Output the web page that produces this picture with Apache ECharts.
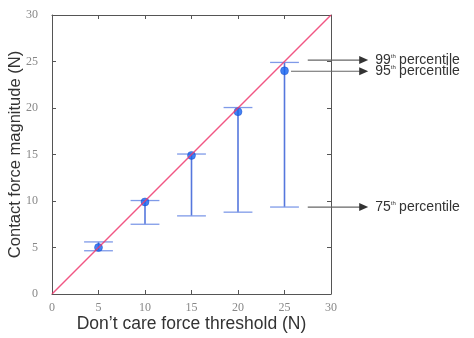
<!DOCTYPE html>
<html>
<head>
<meta charset="utf-8">
<script src="https://cdn.jsdelivr.net/npm/echarts@6/dist/echarts.min.js"></script>
<style>
html, body { margin: 0; padding: 0; background: #fff; }
#chart { width: 474px; height: 338px; }
</style>
</head>
<body>
<div id="chart"></div>
<script>
// thresholds and measured force
var thresholds = [5, 10, 15, 20, 25];
var p95 = [5.0, 9.9, 14.9, 19.6, 24.0];
var p99 = [5.6, 10.05, 15.05, 20.05, 24.9];
var p75 = [4.65, 7.5, 8.4, 8.8, 9.35];
var diagonal = [[0, 0], [30, 30]];

// annotation arrows: [startX, y, endX, label number]
var arrowStart = [27.5, 25.7, 27.5];
var arrowY = [25.15, 23.95, 9.35];
var arrowEnd = 34.0;
var arrowNum = ['99', '95', '75'];

var chart = echarts.init(document.getElementById('chart'));

var tickFont = { fontFamily: 'Liberation Serif', fontSize: 12, color: '#888' };

var errData = thresholds.map(function (t, i) { return [t, p75[i], p99[i]]; });
var pointData = thresholds.map(function (t, i) { return [t, p95[i]]; });
var arrowData = arrowY.map(function (y, i) { return [arrowStart[i], y, arrowEnd, arrowNum[i]]; });

var option = {
  animation: false,
  grid: { left: 52, right: 143, top: 15, bottom: 44, outerBoundsMode: 'none' },
  xAxis: [{
    type: 'value', min: 0, max: 30, interval: 5,
    name: 'Don\u2019t care force threshold (N)',
    nameLocation: 'middle', nameGap: 21, nameMoveOverlap: false,
    nameTextStyle: { fontFamily: 'Liberation Sans', fontSize: 17.5, color: '#333' },
    axisLine: { show: true, lineStyle: { color: '#555', width: 1 } },
    axisTick: { show: true, inside: true, length: 4, lineStyle: { color: '#555' } },
    axisLabel: Object.assign({ margin: 8 }, tickFont),
    splitLine: { show: false }
  }, {
    type: 'value', min: 0, max: 30, interval: 5, position: 'top',
    axisLine: { show: true, onZero: false, lineStyle: { color: '#555', width: 1 } },
    axisTick: { show: true, inside: true, length: 4, lineStyle: { color: '#555' } },
    axisLabel: { show: false },
    splitLine: { show: false }
  }],
  yAxis: [{
    type: 'value', min: 0, max: 30, interval: 5,
    name: 'Contact force magnitude (N)',
    nameLocation: 'middle', nameGap: 28, nameMoveOverlap: false,
    nameTextStyle: { fontFamily: 'Liberation Sans', fontSize: 16.5, color: '#333' },
    axisLine: { show: true, lineStyle: { color: '#555', width: 1 } },
    axisTick: { show: true, inside: true, length: 4, lineStyle: { color: '#555' } },
    axisLabel: Object.assign({ margin: 14 }, tickFont),
    splitLine: { show: false }
  }, {
    type: 'value', min: 0, max: 30, interval: 5, position: 'right',
    axisLine: { show: true, onZero: false, lineStyle: { color: '#555', width: 1 } },
    axisTick: { show: true, inside: true, length: 4, lineStyle: { color: '#555' } },
    axisLabel: { show: false },
    splitLine: { show: false }
  }],
  series: [{
    type: 'custom',
    data: errData,
    z: 2,
    renderItem: function (params, api) {
      var x = api.value(0);
      var lo = api.coord([x, api.value(1)]);
      var hi = api.coord([x, api.value(2)]);
      var half = api.size([1.55, 0])[0];
      return {
        type: 'group',
        children: [{
          type: 'line',
          shape: { x1: lo[0], y1: lo[1], x2: hi[0], y2: hi[1] },
          style: { stroke: '#5577dd', lineWidth: 1.6 }
        }, {
          type: 'line',
          shape: { x1: lo[0] - half, y1: lo[1], x2: lo[0] + half, y2: lo[1] },
          style: { stroke: '#7f9ae8', lineWidth: 1.3 }
        }, {
          type: 'line',
          shape: { x1: hi[0] - half, y1: hi[1], x2: hi[0] + half, y2: hi[1] },
          style: { stroke: '#7f9ae8', lineWidth: 1.3 }
        }]
      };
    }
  }, {
    type: 'scatter',
    data: pointData,
    symbolSize: 8,
    z: 3,
    itemStyle: { color: '#1463f0', borderColor: '#1040c0', borderWidth: 0.5 }
  }, {
    type: 'line',
    data: diagonal,
    symbol: 'none',
    z: 4,
    lineStyle: { color: '#ee3a6e', width: 1.4, opacity: 0.85 }
  }, {
    type: 'custom',
    data: arrowData,
    clip: false,
    z: 5,
    renderItem: function (params, api) {
      var a = api.coord([api.value(0), api.value(1)]);
      var b = api.coord([api.value(2), api.value(1)]);
      var num = api.value(3);
      return {
        type: 'group',
        children: [{
          type: 'line',
          shape: { x1: a[0], y1: a[1], x2: b[0] - 8, y2: a[1] },
          style: { stroke: '#666', lineWidth: 1.2 }
        }, {
          type: 'polygon',
          shape: { points: [[b[0] - 9, a[1] - 4], [b[0], a[1]], [b[0] - 9, a[1] + 4]] },
          style: { fill: '#333' }
        }, {
          type: 'text',
          x: b[0] + 7, y: a[1],
          style: {
            text: '{n|' + num + '}{s|th} {n|percentile}',
            verticalAlign: 'middle',
            rich: {
              n: { fontFamily: 'Liberation Sans', fontSize: 14, fill: '#333' },
              s: { fontFamily: 'Liberation Sans', fontSize: 6, fill: '#333', verticalAlign: 'top', padding: [0, 0, 7, 0] }
            }
          }
        }]
      };
    }
  }]
};

chart.setOption(option);
</script>
</body>
</html>
